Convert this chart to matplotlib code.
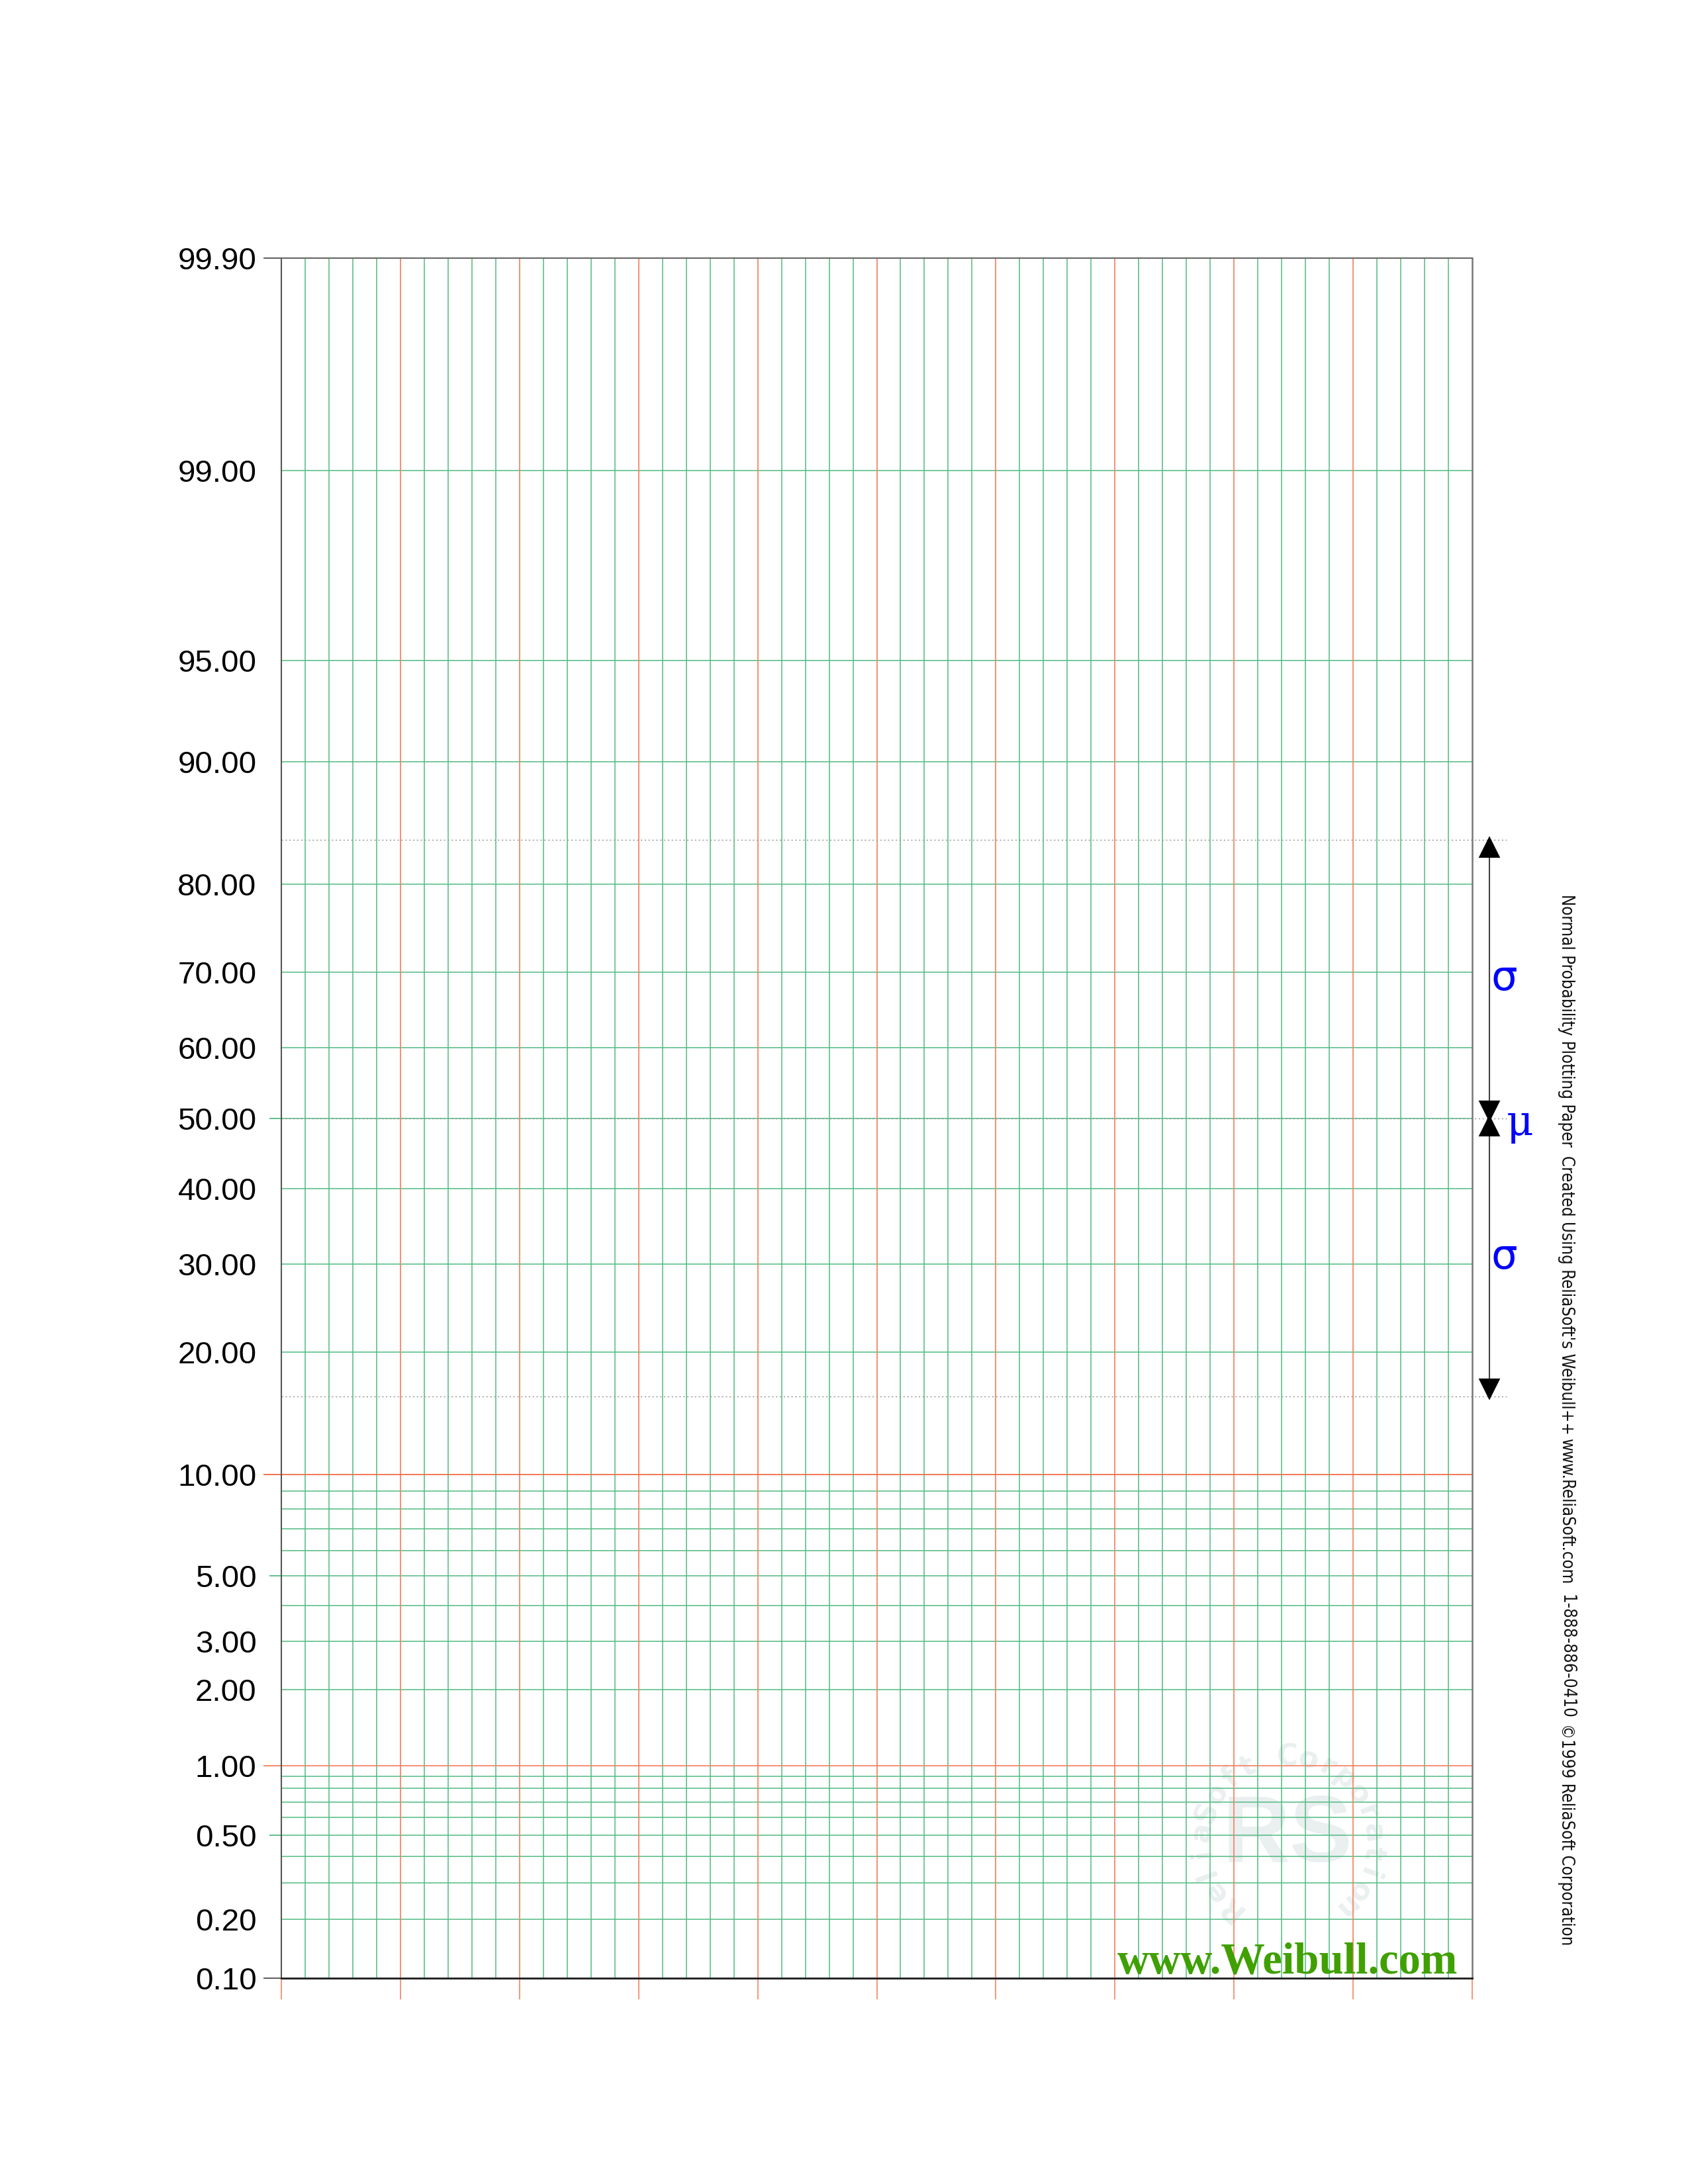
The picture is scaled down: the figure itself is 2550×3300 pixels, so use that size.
import matplotlib
matplotlib.use('Agg')
import matplotlib.pyplot as plt
from matplotlib.transforms import blended_transform_factory
from statistics import NormalDist
import numpy as np

# ---- scale data (percent unreliability) ----
label_pcts = [99.9, 99, 95, 90, 80, 70, 60, 50, 40, 30, 20, 10, 5, 3, 2, 1, 0.5, 0.2, 0.1]
extra_pcts = [9, 8, 7, 6, 4, 0.9, 0.8, 0.7, 0.6, 0.4, 0.3]
red_pcts = [10, 1]
long_tick_pcts = [99.9, 10, 1, 0.1]
short_tick_pcts = [50, 5, 0.5]
sigma_pcts = [84.13, 50, 15.87]

x_major = list(range(0, 11))
x_minor = list(np.arange(0, 10.001, 0.2))

side_text = ["Normal Probability Plotting Paper",
             "Created Using ReliaSoft's Weibull++",
             "www.ReliaSoft.com",
             "1-888-886-0410",
             "\u00a91999 ReliaSoft Corporation"]
side_start_px = [1351, 1746, 2173, 2409, 2604]

GREEN = '#55bd85'
RED = '#f28462'
RED_DARK = '#f06a40'

nd = NormalDist()
def z(p):
    return nd.inv_cdf(p / 100.0)

W, H = 2550, 3300
fig = plt.figure(figsize=(8.5, 11), dpi=300)
L, R, T, B = 425, 2224, 390, 2989
ax = fig.add_axes([L / W, (H - B) / H, (R - L) / W, (B - T) / H])
ax.set_xlim(0, 10)
ax.set_ylim(z(0.1), z(99.9))

# vertical grid
for x in x_minor:
    if abs(x - round(x)) < 1e-6:
        continue
    ax.axvline(x, color=GREEN, lw=0.38, zorder=1)
for x in x_major[1:-1]:
    ax.axvline(x, color=RED, lw=0.42, zorder=1.2)

# horizontal grid
for p in label_pcts[1:-1] + extra_pcts:
    if p in red_pcts:
        continue
    ax.axhline(z(p), color=GREEN, lw=0.38, zorder=1)
ax.axhline(z(10), color=RED_DARK, lw=0.42, zorder=1.2)
ax.axhline(z(1), color=RED, lw=0.42, zorder=1.2)

blend = blended_transform_factory(ax.transAxes, ax.transData)

# little ticks on the left
for p in long_tick_pcts:
    c = '#555555'
    if p == 10:
        c = RED_DARK
    elif p == 1:
        c = RED
    ax.plot([-0.0145, 0], [z(p), z(p)], color=c, lw=0.45, transform=blend, clip_on=False)
for p in short_tick_pcts:
    ax.plot([-0.0095, 0], [z(p), z(p)], color=GREEN, lw=0.45, transform=blend, clip_on=False)

# mu +/- sigma dotted guides
for p in sigma_pcts:
    ax.plot([0, 1.029], [z(p), z(p)], color='#999999', lw=0.35, ls=(0, (1.5, 2.5)),
            transform=blend, clip_on=False, zorder=1.5)

# sigma bracket on the right
xa = 1.0145
ax.plot([xa, xa], [z(sigma_pcts[0]), z(sigma_pcts[2])], color='#444444', lw=0.5,
        transform=blend, clip_on=False)
dz = 12 / ((B - T) / (z(99.9) - z(0.1)))
tri = dict(color='black', ms=6.3, transform=blend, clip_on=False, ls='none')
ax.plot([xa], [z(sigma_pcts[0]) - dz], marker='^', **tri)
ax.plot([xa], [z(50) + dz], marker='v', **tri)
ax.plot([xa], [z(50) - dz], marker='^', **tri)
ax.plot([xa], [z(sigma_pcts[2]) + dz], marker='v', **tri)
ax.text(1.0267, 0.5, '\u03c3', color='#0000ff', fontsize=15, family='DejaVu Sans',
        ha='center', va='center', transform=blend)
ax.text(1.0267, -0.5, '\u03c3', color='#0000ff', fontsize=15, family='DejaVu Sans',
        ha='center', va='center', transform=blend)
ax.text(1.040, -0.02, '\u03bc', color='#0000ff', fontsize=15, family='DejaVu Serif',
        ha='center', va='center', transform=blend)

# axes ticks / labels
ax.set_yticks([z(p) for p in label_pcts])
ax.set_yticklabels(['%.2f' % p for p in label_pcts], family='Liberation Sans', fontsize=11.4)
ax.tick_params(axis='y', length=0, pad=9)
ax.set_xticks(x_major)
ax.set_xticklabels([])
ax.tick_params(axis='x', length=7.7, width=0.4, color=RED)
xt = ax.xaxis.get_major_ticks()
for i in (0, len(xt) - 1):
    xt[i].tick1line.set_color('#666666')

for s, c, w in (('left', '#555555', 0.5), ('top', '#666666', 0.5),
                ('right', '#777777', 0.6), ('bottom', '#222222', 0.7)):
    ax.spines[s].set_color(c)
    ax.spines[s].set_linewidth(w)
    ax.spines[s].set_zorder(3)

# watermark
wm = '#eaeff0'
cx, cy, rad = 1945 / 300, (H - 2785) / 300, 130 / 300
word = 'ReliaSoft Corporation'
for i, ch in enumerate(word):
    a = np.deg2rad(228 - 13.8 * i)
    ax.text(cx + rad * np.cos(a), cy + rad * np.sin(a), ch, transform=fig.dpi_scale_trans,
            rotation=np.rad2deg(a) - 90, ha='center', va='center', fontsize=10.5,
            fontweight='heavy', color=wm, family='DejaVu Sans', zorder=0.5)
ax.text(cx, cy + 0.03, 'RS', transform=fig.dpi_scale_trans, ha='center', va='center',
        fontsize=34, fontweight='bold', color=wm, family='Liberation Sans', zorder=0.5)

# brand
ax.text(0.9878, 0.003, 'www.Weibull.com', transform=ax.transAxes, ha='right', va='baseline',
        fontsize=16, fontweight='bold', color='#3fa000', family='Liberation Serif', zorder=4)

# side text
for txt, y0 in zip(side_text, side_start_px):
    fig.text(2366 / W, (H - y0) / H, txt, rotation=-90, ha='center', va='top',
             fontsize=6.2, family='DejaVu Sans', fontstretch='condensed', color='#111111')

fig.savefig('out.png', dpi=300, facecolor='white')
